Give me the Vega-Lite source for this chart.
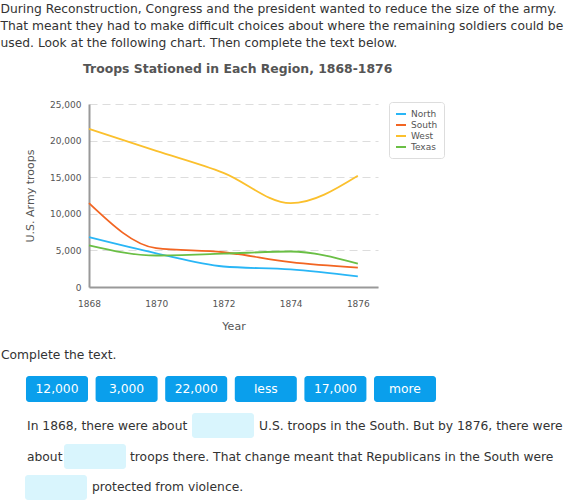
{
  "$schema": "https://vega.github.io/schema/vega-lite/v6.json",
  "background": "white",
  "padding": {"left": 0, "top": 2, "right": 0, "bottom": 0},
  "title": {
    "text": [
      "During Reconstruction, Congress and the president wanted to reduce the size of the army.",
      "That meant they had to make difficult choices about where the remaining soldiers could be",
      "used. Look at the following chart. Then complete the text below."
    ],
    "anchor": "start",
    "frame": "bounds",
    "fontSize": 12.3,
    "fontWeight": "normal",
    "color": "#333",
    "lineHeight": 17,
    "offset": 13
  },
  "spacing": 17,
  "vconcat": [
    {
      "spacing": 22,
      "hconcat": [
        {
          "width": 1,
          "height": 183,
          "data": {"values": []},
          "mark": "rect"
        },
        {
          "width": 289,
          "height": 183,
          "title": {
            "text": "Troops Stationed in Each Region, 1868-1876",
            "anchor": "start",
            "frame": "group",
            "dx": -6,
            "fontSize": 12.4,
            "fontWeight": "bold",
            "color": "#555",
            "offset": 25
          },
          "data": {
            "values": [
              {"year": 1868, "region": "North", "troops": 6800},
              {"year": 1870, "region": "North", "troops": 4600},
              {"year": 1872, "region": "North", "troops": 2800},
              {"year": 1874, "region": "North", "troops": 2400},
              {"year": 1876, "region": "North", "troops": 1450},
              {"year": 1868, "region": "South", "troops": 11450},
              {"year": 1870, "region": "South", "troops": 5300},
              {"year": 1872, "region": "South", "troops": 4750},
              {"year": 1874, "region": "South", "troops": 3400},
              {"year": 1876, "region": "South", "troops": 2650},
              {"year": 1868, "region": "West", "troops": 21600},
              {"year": 1870, "region": "West", "troops": 18600},
              {"year": 1872, "region": "West", "troops": 15600},
              {"year": 1874, "region": "West", "troops": 11450},
              {"year": 1876, "region": "West", "troops": 15200},
              {"year": 1868, "region": "Texas", "troops": 5700},
              {"year": 1870, "region": "Texas", "troops": 4300},
              {"year": 1872, "region": "Texas", "troops": 4550},
              {"year": 1874, "region": "Texas", "troops": 4850},
              {"year": 1876, "region": "Texas", "troops": 3200}
            ]
          },
          "mark": {"type": "line", "interpolate": "monotone", "strokeWidth": 1.8},
          "encoding": {
            "x": {
              "field": "year",
              "type": "quantitative",
              "scale": {"domain": [1868, 1876.6], "nice": false, "zero": false},
              "axis": {
                "title": "Year",
                "values": [1868, 1870, 1872, 1874, 1876],
                "format": "d",
                "grid": false,
                "ticks": false,
                "labelFlush": false,
                "domainColor": "#999",
                "domainWidth": 2,
                "labelFontSize": 9,
                "labelColor": "#555",
                "labelPadding": 12,
                "titleFontSize": 11,
                "titleFontWeight": "normal",
                "titleColor": "#555",
                "titlePadding": 12
              }
            },
            "y": {
              "field": "troops",
              "type": "quantitative",
              "scale": {"domain": [0, 25000], "nice": false},
              "axis": {
                "title": "U.S. Army troops",
                "values": [0, 5000, 10000, 15000, 20000, 25000],
                "format": ",d",
                "ticks": false,
                "domainColor": "#999",
                "domainWidth": 2,
                "gridColor": "#ddd",
                "gridDash": [8, 5],
                "labelFontSize": 9,
                "labelColor": "#555",
                "labelPadding": 8,
                "titleFontSize": 11,
                "titleFontWeight": "normal",
                "titleColor": "#555",
                "titlePadding": 14
              }
            },
            "color": {
              "field": "region",
              "type": "nominal",
              "scale": {
                "domain": ["North", "South", "West", "Texas"],
                "range": ["#29b6f6", "#f26522", "#fbc02d", "#6abf45"]
              },
              "legend": {
                "orient": "none",
                "legendX": 388,
                "legendY": -2,
                "title": null,
                "strokeColor": "#ddd",
                "fillColor": "white",
                "cornerRadius": 3,
                "padding": 6,
                "symbolType": "stroke",
                "symbolSize": 100,
                "symbolStrokeWidth": 2,
                "labelFontSize": 9,
                "labelColor": "#555",
                "labelOffset": 4,
                "rowPadding": -1.3
              }
            }
          }
        }
      ]
    },
    {
      "title": {
        "text": "Complete the text.",
        "anchor": "start",
        "frame": "group",
        "fontSize": 12.3,
        "fontWeight": "normal",
        "color": "#333",
        "offset": 14
      },
      "spacing": 9,
      "vconcat": [
        {
          "width": 460,
          "height": 26,
          "data": {
            "values": [
              {"choice": "12,000"},
              {"choice": "3,000"},
              {"choice": "22,000"},
              {"choice": "less"},
              {"choice": "17,000"},
              {"choice": "more"}
            ]
          },
          "encoding": {
            "x": {
              "field": "choice",
              "type": "nominal",
              "sort": null,
              "axis": null,
              "scale": {"paddingInner": 0.109, "paddingOuter": 0.359}
            }
          },
          "layer": [
            {"mark": {"type": "rect", "color": "#0a9fec", "cornerRadius": 3}},
            {
              "mark": {"type": "text", "color": "white", "fontSize": 12.3},
              "encoding": {"text": {"field": "choice"}}
            }
          ]
        },
        {
          "width": 545,
          "height": 87,
          "layer": [
            {
              "data": {
                "values": [
                  {"line": 1, "from": 191, "to": 253},
                  {"line": 2, "from": 63, "to": 125},
                  {"line": 3, "from": 24, "to": 86}
                ]
              },
              "mark": {"type": "rect", "color": "#d9f5fd", "cornerRadius": 3},
              "encoding": {
                "x": {"field": "from", "type": "quantitative", "scale": {"domain": [0, 545], "nice": false}, "axis": null},
                "x2": {"field": "to"},
                "y": {"field": "line", "type": "ordinal", "axis": null, "scale": {"paddingInner": 0.19, "paddingOuter": 0}}
              }
            },
            {
              "data": {
                "values": [
                  {"line": 1, "at": 26, "text": "In 1868, there were about"},
                  {"line": 1, "at": 258, "text": "U.S. troops in the South. But by 1876, there were"},
                  {"line": 2, "at": 26, "text": "about"},
                  {"line": 2, "at": 129, "text": "troops there. That change meant that Republicans in the South were"},
                  {"line": 3, "at": 91, "text": "protected from violence."}
                ]
              },
              "mark": {"type": "text", "align": "left", "fontSize": 12.3, "color": "#333"},
              "encoding": {
                "x": {"field": "at", "type": "quantitative"},
                "y": {"field": "line", "type": "ordinal"},
                "text": {"field": "text"}
              }
            }
          ]
        }
      ]
    }
  ],
  "config": {
    "font": "DejaVu Sans",
    "view": {"stroke": "transparent"}
  }
}
